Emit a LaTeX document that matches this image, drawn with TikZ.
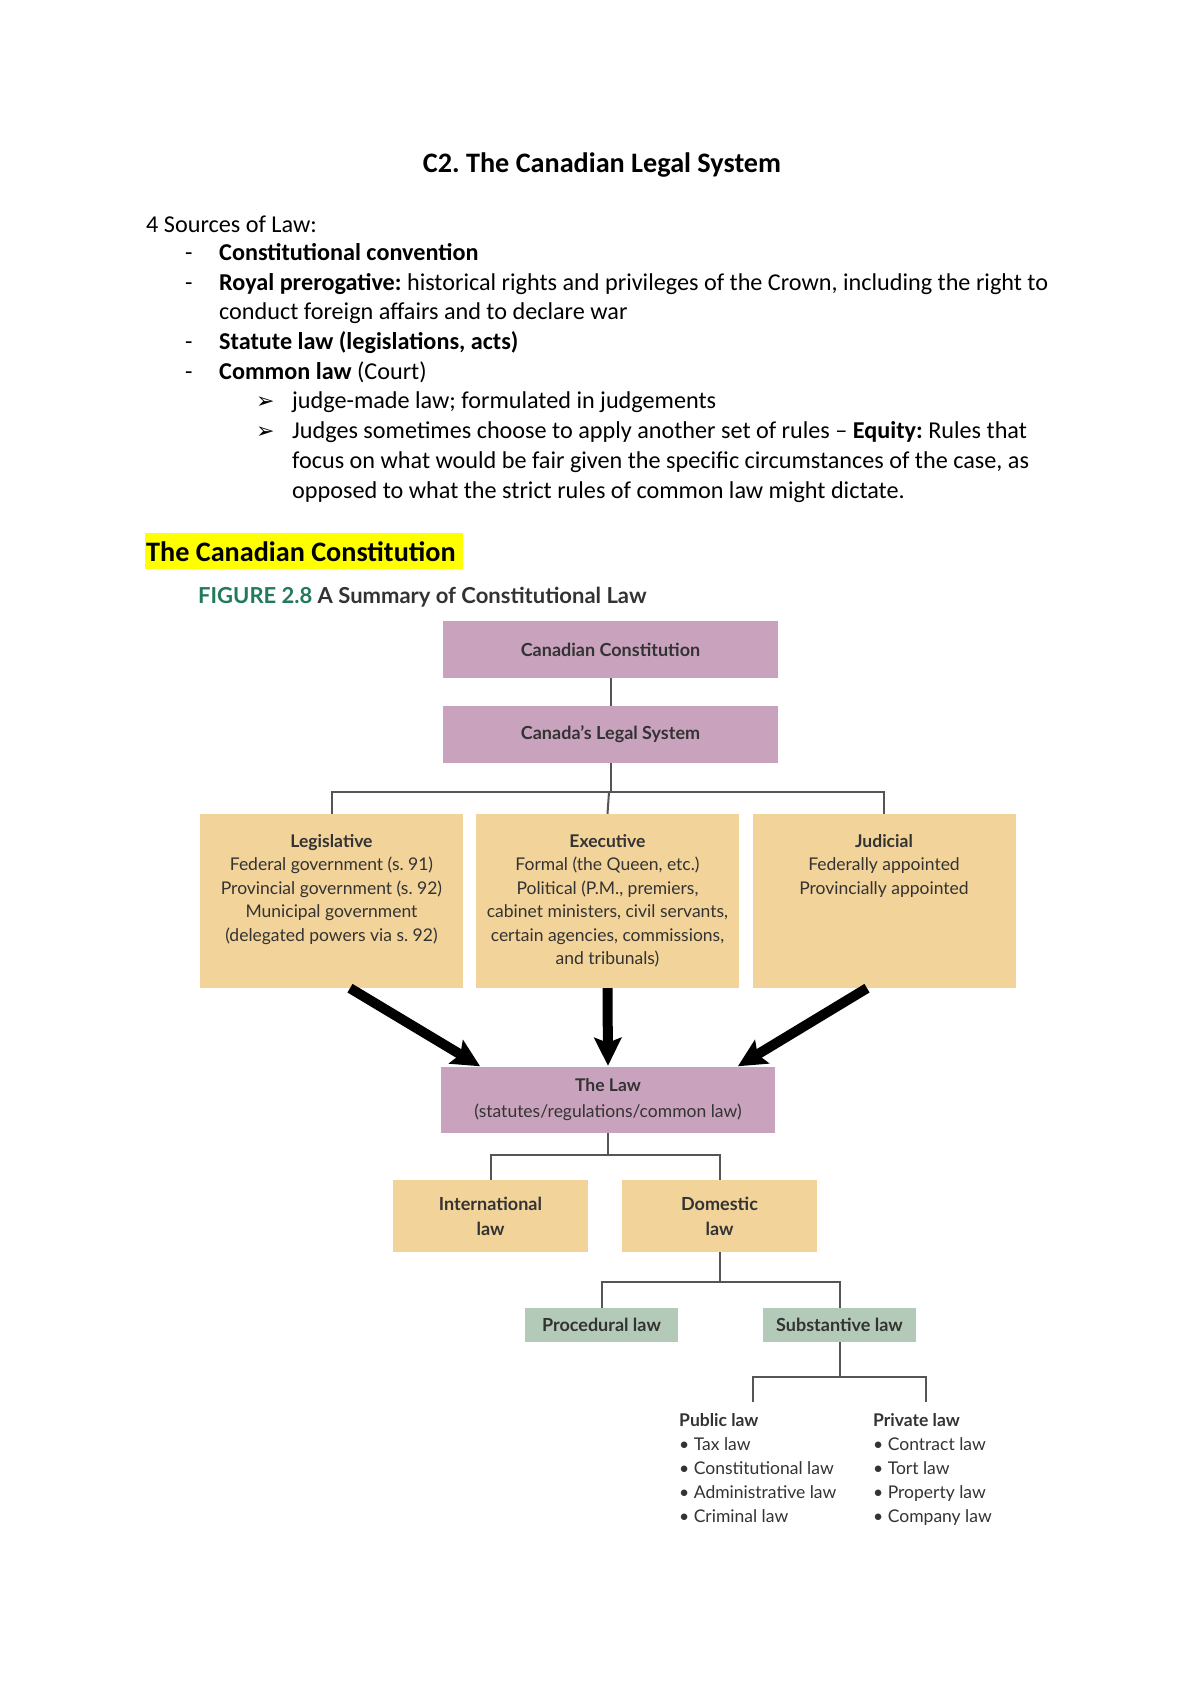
\documentclass[tikz,border=0pt]{standalone}
\usepackage{fontspec}
\setmainfont{Carlito}
\newfontfamily\figfont{Lato}
\newfontfamily\symfont{DejaVu Sans}
\usetikzlibrary{arrows.meta,calc}
\definecolor{pinkbox}{HTML}{C9A3BD}
\definecolor{tanbox}{HTML}{F2D39A}
\definecolor{greenbox}{HTML}{B4CAB8}
\definecolor{figgreen}{HTML}{237A5A}
\definecolor{figtext}{HTML}{333333}
\definecolor{connector}{HTML}{555555}
\definecolor{hilite}{HTML}{FFFF00}
\frenchspacing
\begin{document}
\begin{tikzpicture}[x=1pt,y=-1pt,
  body/.style={anchor=base west, inner sep=0pt, font=\fontsize{24.2pt}{29.6pt}\selectfont},
  arrowbullet/.style={anchor=base west, inner sep=0pt, font=\symfont\fontsize{22pt}{26pt}\selectfont},
  figbox/.style={inner sep=0pt, text=figtext, font=\figfont\fontsize{17.5pt}{23.5pt}\selectfont},
  pinkstyle/.style={figbox, fill=pinkbox, minimum width=335pt},
  tanstyle/.style={figbox, fill=tanbox, minimum width=263pt, minimum height=174pt},
  smalltan/.style={figbox, fill=tanbox, minimum width=195pt, minimum height=72pt, align=center},
  greenstyle/.style={figbox, fill=greenbox, minimum width=153pt, minimum height=34pt},
  boxtext/.style={figbox, anchor=north, align=center},
  listtext/.style={figbox, anchor=north west, align=left, font=\figfont\fontsize{17.5pt}{24pt}\selectfont},
  link/.style={draw=connector, line width=2pt},
  bigarrow/.style={draw=black, line width=10pt, -{Stealth[length=28pt, width=27pt, inset=5pt]}, shorten >=1pt}
]
\useasboundingbox (0,0) rectangle (1200,1698);
\fill[white] (0,0) rectangle (1200,1698);

% ---- title and notes ----
\node[anchor=base, inner sep=0pt, font=\bfseries\fontsize{28.2pt}{32pt}\selectfont] (title) at (602,172) {C2. The Canadian Legal System};

\node[body] (src) at (146,232) {4 Sources of Law:};
\node[body] (d1) at (185,260) {-};
\node[body] (t1) at (219,260) {\textbf{Constitutional convention}};
\node[body] (d2) at (185,290) {-};
\node[body] (t2) at (219,290) {\textbf{Royal prerogative:} historical rights and privileges of the Crown, including the right to};
\node[body] (t2b) at (219,319) {conduct foreign affairs and to declare war};
\node[body] (d3) at (185,349) {-};
\node[body] (t3) at (219,349) {\textbf{Statute law (legislations, acts)}};
\node[body] (d4) at (185,379) {-};
\node[body] (t4) at (219,379) {\textbf{Common law} (Court)};
\node[arrowbullet] (a1) at (256,408) {➢};
\node[body] (s1) at (292,408) {judge-made law; formulated in judgements};
\node[arrowbullet] (a2) at (256,438) {➢};
\node[body] (s2) at (292,438) {Judges sometimes choose to apply another set of rules – \textbf{Equity:} Rules that};
\node[body] (s2b) at (292,468) {focus on what would be fair given the specific circumstances of the case, as};
\node[body] (s2c) at (292,498) {opposed to what the strict rules of common law might dictate.};

% ---- heading ----
\node[fill=hilite, anchor=north west, minimum width=318pt, minimum height=36pt, inner sep=0pt] (hlbox) at (145,533) {};
\node[anchor=base west, inner sep=0pt, font=\bfseries\fontsize{28.2pt}{32pt}\selectfont] (heading) at (146,561) {The Canadian Constitution};

\node[anchor=base west, inner sep=0pt, font=\figfont\bfseries\fontsize{22pt}{26pt}\selectfont, text=figtext] (figcap) at (198,603) {\textcolor{figgreen}{FIGURE 2.8} A Summary of Constitutional Law};

% ---- figure boxes ----
\node[pinkstyle, minimum height=57pt, font=\figfont\bfseries\fontsize{18pt}{22pt}\selectfont] (cc) at (610.5,649.5) {Canadian Constitution};
\node[pinkstyle, minimum height=57pt, font=\figfont\bfseries\fontsize{18pt}{22pt}\selectfont] (cls) at (610.5,734.5) {Canada’s Legal System};

\node[tanstyle] (leg) at (331.5,901) {};
\node[tanstyle] (exe) at (607.5,901) {};
\node[tanstyle] (jud) at (884,901) {};
\node[boxtext] (legt) at (331.5,834) {\textbf{Legislative}\\Federal government (s. 91)\\Provincial government (s. 92)\\Municipal government\\(delegated powers via s. 92)};
\node[boxtext] (exet) at (607.5,834) {\textbf{Executive}\\Formal (the Queen, etc.)\\Political (P.M., premiers,\\cabinet ministers, civil servants,\\certain agencies, commissions,\\and tribunals)};
\node[boxtext] (judt) at (884,834) {\textbf{Judicial}\\Federally appointed\\Provincially appointed};

\node[pinkstyle, minimum width=334pt, minimum height=66pt, align=center, font=\figfont\fontsize{17.5pt}{26pt}\selectfont] (law) at (608,1100) {\textbf{The Law}\\(statutes/regulations/common law)};

\node[smalltan, font=\figfont\bfseries\fontsize{18pt}{25pt}\selectfont] (intl) at (490.5,1216) {International\\law};
\node[smalltan, font=\figfont\bfseries\fontsize{18pt}{25pt}\selectfont] (dom) at (719.5,1216) {Domestic\\law};

\node[greenstyle, font=\figfont\bfseries\fontsize{18pt}{22pt}\selectfont] (proc) at (601.5,1325) {Procedural law};
\node[greenstyle, font=\figfont\bfseries\fontsize{18pt}{22pt}\selectfont] (subst) at (839.5,1325) {Substantive law};

\node[listtext] (pub) at (679,1413) {\textbf{Public law}\\• Tax law\\• Constitutional law\\• Administrative law\\• Criminal law};
\node[listtext] (priv) at (873,1413) {\textbf{Private law}\\• Contract law\\• Tort law\\• Property law\\• Company law};

% ---- junctions ----
\coordinate (j1) at (609,792);
\coordinate (j2) at (606,1155);
\coordinate (j3) at (719.5,1282);
\coordinate (j4) at (839.5,1377);
\coordinate (pubtop) at (753,1402);
\coordinate (privtop) at (926,1402);

% ---- connectors ----
\draw[link] (cc.south) -- (cls.north);
\draw[link] (cls.south) -- (cls.south |- j1);
\draw[link] (leg.north) |- (j1) -| (jud.north);
\draw[link] (j1) -- (exe.north);

\draw[bigarrow] ([xshift=18.5pt]leg.south) -- ([xshift=-127pt]law.north);
\draw[bigarrow] (exe.south) -- (law.north);
\draw[bigarrow] ([xshift=-17pt]jud.south) -- ([xshift=129pt]law.north);

\draw[link] (law.south) -- (law.south |- j2);
\draw[link] (intl.north) |- (j2) -| (dom.north);

\draw[link] (dom.south) -- (j3);
\draw[link] (proc.north) |- (j3) -| (subst.north);

\draw[link] (subst.south) -- (j4);
\draw[link] (pubtop) |- (j4) -| (privtop);
\end{tikzpicture}
\end{document}
